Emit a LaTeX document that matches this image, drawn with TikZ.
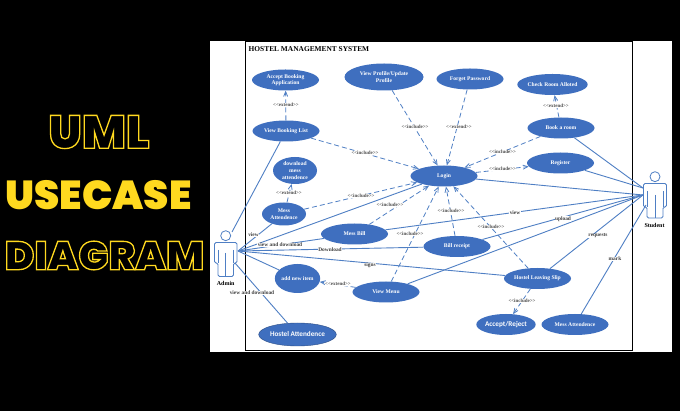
\documentclass[tikz,border=0pt]{standalone}
\usepackage{fontspec}
\usepackage{xcolor}
\setmainfont{Liberation Serif}
\newfontfamily\bannerfont{Poppins Black}
\newfontfamily\caseSans{Carlito}
\usetikzlibrary{shapes.geometric,arrows}
\definecolor{caseblue}{HTML}{3F6FBF}
\definecolor{linkblue}{HTML}{4F7FC4}
\definecolor{bannergold}{HTML}{FFD91F}
\newcommand{\hollowtext}[1]{\special{pdf:code q 1 Tr 1.3 w 1 0.85 0.12 RG}#1\special{pdf:code Q}}
\tikzstyle{usecase}=[ellipse,minimum width=67pt,minimum height=21pt,inner sep=0pt,align=center,text centered,fill=caseblue,text=white,font=\fontsize{5.6}{6.6}\selectfont\bfseries]
\tikzstyle{roundcase}=[usecase,minimum width=44pt,minimum height=25pt]
\tikzstyle{sanscase}=[usecase,font=\fontsize{7.2}{8}\selectfont\caseSans\bfseries]
\tikzstyle{stereo}=[fill=white,inner sep=0.4pt,font=\fontsize{5}{6}\selectfont\bfseries,text=black!70]
\tikzstyle{linktext}=[fill=white,inner sep=0.4pt,font=\fontsize{5.4}{6}\selectfont\bfseries,text=black!75]
\tikzstyle{actorname}=[inner sep=0pt,font=\fontsize{6}{7}\selectfont\bfseries]
\tikzstyle{banner}=[inner sep=0pt,text=bannergold,font=\fontsize{40.4}{46}\selectfont\bannerfont]
\tikzstyle{hollowbanner}=[inner sep=0pt,font=\fontsize{40}{48}\selectfont\bannerfont]
\tikzstyle{arrow}=[thick,linkblue,dashed,dash pattern=on 5pt off 3pt,->,>=angle 45]
\tikzstyle{assoc}=[linkblue,line width=0.9pt]
\tikzstyle{stick}=[linkblue,line width=0.8pt,rounded corners=1.5pt]
\begin{document}
\begin{tikzpicture}[x=1pt,y=-1pt]
            \useasboundingbox (0,0) rectangle (680,411);
            \fill[black] (0,0) rectangle (680,411);
            \fill[white] (210,41) rectangle (672,352.5);
            \draw[black,line width=1.4pt] (245.7,41) rectangle (632.3,350.8);
            % left banner
            \node (bannertop)[hollowbanner,font=\fontsize{46.5}{52}\selectfont\bannerfont] at (99,132){\hollowtext{UML}};
            \node (bannermid)[banner] at (98.5,195){USECASE};
            \node (bannerlow)[hollowbanner] at (104.5,255.5){\hollowtext{DIAGRAM}};
            \node (title)[inner sep=0pt,anchor=west,font=\fontsize{7.4}{8}\selectfont\bfseries] at (248.5,49){HOSTEL MANAGEMENT SYSTEM};
            % use cases
            \node (accept)[usecase] at (285.5,80){Accept Booking\\Application};
            \node (profile)[usecase,minimum width=79pt,minimum height=27pt] at (384,77){View Profile/Update\\Profile};
            \node (forget)[usecase] at (470,79){Forget Password};
            \node (check)[usecase] at (552.5,84.5){Check Room Alloted};
            \node (bookroom)[usecase] at (561,128){Book a room};
            \node (register)[usecase] at (560.5,163){Register};
            \node (login)[usecase] at (444,176){Login};
            \node (booklist)[usecase] at (286,131){View Booking List};
            \node (download)[roundcase,minimum height=27pt] at (295,170.5){download\\mess\\attendence};
            \node (messatt)[roundcase,minimum height=23pt] at (284,214){Mess\\Attendence};
            \node (messbill)[usecase] at (354.5,234){Mess Bill};
            \node (billrec)[usecase] at (457,246.5){Bill receipt};
            \node (additem)[roundcase,minimum width=45pt,minimum height=29pt] at (297.5,278.5){add new item};
            \node (viewmenu)[usecase] at (386,292){View Menu};
            \node (hostatt)[sanscase,draw=caseblue!70!black,minimum width=69pt,minimum height=23pt] at (297.5,334.5){Hostel Attendence};
            \node (leaving)[usecase] at (537.5,278.5){Hostel Leaving Slip};
            \node (acceptrej)[sanscase,minimum width=53pt] at (506,324.5){Accept/Reject};
            \node (messatt2)[usecase] at (575,324.5){Mess Attendence};
            % actors
            \draw[stick] (225.7,235.7) circle (5);
            \draw[stick] (218,263) -- (214.5,263) -- (214.5,242.5) -- (237,242.5) -- (237,263) -- (233.5,263) -- (233.5,276.5) -- (218,276.5) -- cycle;
            \draw[linkblue,line width=0.7pt] (218,250) -- (218,263) (233.5,250) -- (233.5,263) (225.7,253) -- (225.7,276.5);
            \node (admin)[actorname] at (225.7,283){Admin};
            \draw[stick] (655,176.7) circle (5);
            \draw[stick] (647,207) -- (643.5,207) -- (643.5,183.5) -- (666.5,183.5) -- (666.5,207) -- (663,207) -- (663,218) -- (647,218) -- cycle;
            \draw[linkblue,line width=0.7pt] (647,191) -- (647,207) (663,191) -- (663,207) (655,195) -- (655,218);
            \node (student)[actorname] at (654.5,225){Student};
            \coordinate (adminneck) at (232,232);
            \coordinate (adminhand) at (238,251);
            \coordinate (adminleg) at (235,263);
            \coordinate (studenttop) at (643,188);
            \coordinate (studenthand) at (643,195);
            \coordinate (studentleg) at (646,205);
            % associations
            \draw [assoc] (adminneck) -- (booklist);
            \draw [assoc] (adminhand) -- (messatt);
            \draw [assoc] (adminhand) -- (login);
            \draw [assoc] (adminhand) -- (messbill);
            \draw [assoc] (adminhand) -- (billrec);
            \draw [assoc] (adminhand) -- (leaving);
            \draw [assoc] (adminhand) -- (additem);
            \draw [assoc] (adminleg) -- (hostatt);
            \draw [assoc] (studenttop) -- (bookroom);
            \draw [assoc] (studenttop) -- (register);
            \draw [assoc] (studenthand) -- (login);
            \draw [assoc] (studenthand) -- (messbill);
            \draw [assoc] (studenthand) -- (billrec);
            \draw [assoc] (studenthand) -- (viewmenu);
            \draw [assoc] (studenthand) -- (leaving);
            \draw [assoc] (studentleg) -- (messatt2);
            % include and extend
            \draw [arrow] (booklist) -- (accept);
            \draw [arrow] (booklist) -- (login);
            \draw [arrow] (profile) -- (login);
            \draw [arrow] (forget) -- (login);
            \draw [arrow] (bookroom) -- (check);
            \draw [arrow] (bookroom) -- (login);
            \draw [arrow] (login) -- (register);
            \draw [arrow] (messatt) -- (download);
            \draw [arrow] (messatt) -- (login);
            \draw [arrow] (messbill) -- (login);
            \draw [arrow] (billrec) -- (login);
            \draw [arrow] (viewmenu) -- (login);
            \draw [arrow] (leaving) -- (login);
            \draw [arrow] (leaving) -- (acceptrej);
            \draw [arrow] (viewmenu) -- (additem);
            % labels
            \node (lbextend)[stereo] at (286,105){<{}<extend>{}>};
            \node (lbinclude)[stereo] at (365,153){<{}<include>{}>};
            \node (lpinclude)[stereo] at (415,127){<{}<include>{}>};
            \node (lfextend)[stereo] at (459,127){<{}<extend>{}>};
            \node (lcextend)[stereo] at (556,106){<{}<extend>{}>};
            \node (lrinclude)[stereo] at (502.5,152){<{}<include>{}>};
            \node (lginclude)[stereo] at (502.5,169){<{}<include>{}>};
            \node (ldextend)[stereo] at (289,193){<{}<extend>{}>};
            \node (lminclude)[stereo] at (361,196){<{}<include>{}>};
            \node (lbillinc)[stereo] at (390,205){<{}<include>{}>};
            \node (lrecinc)[stereo] at (451,211){<{}<include>{}>};
            \node (lmenuinc)[stereo] at (410,234){<{}<include>{}>};
            \node (lslipinc)[stereo] at (491,227){<{}<include>{}>};
            \node (lrejinc)[stereo] at (522,301){<{}<include>{}>};
            \node (laddext)[stereo] at (338,284){<{}<extend>{}>};
            \node (lview)[linktext] at (253.5,235){view};
            \node (lviewdl)[linktext] at (280,245){view and download};
            \node (ldownload)[linktext] at (330,250){Download};
            \node (lsigns)[linktext] at (370,265.5){signs};
            \node (lviewdl2)[linktext] at (252,293){view and download};
            \node (lview2)[linktext] at (515,213){view};
            \node (lupload)[linktext] at (563,219){upload};
            \node (lrequests)[linktext] at (598,236){requests};
            \node (lmark)[linktext] at (615,259){mark};
        \end{tikzpicture}
\end{document}
